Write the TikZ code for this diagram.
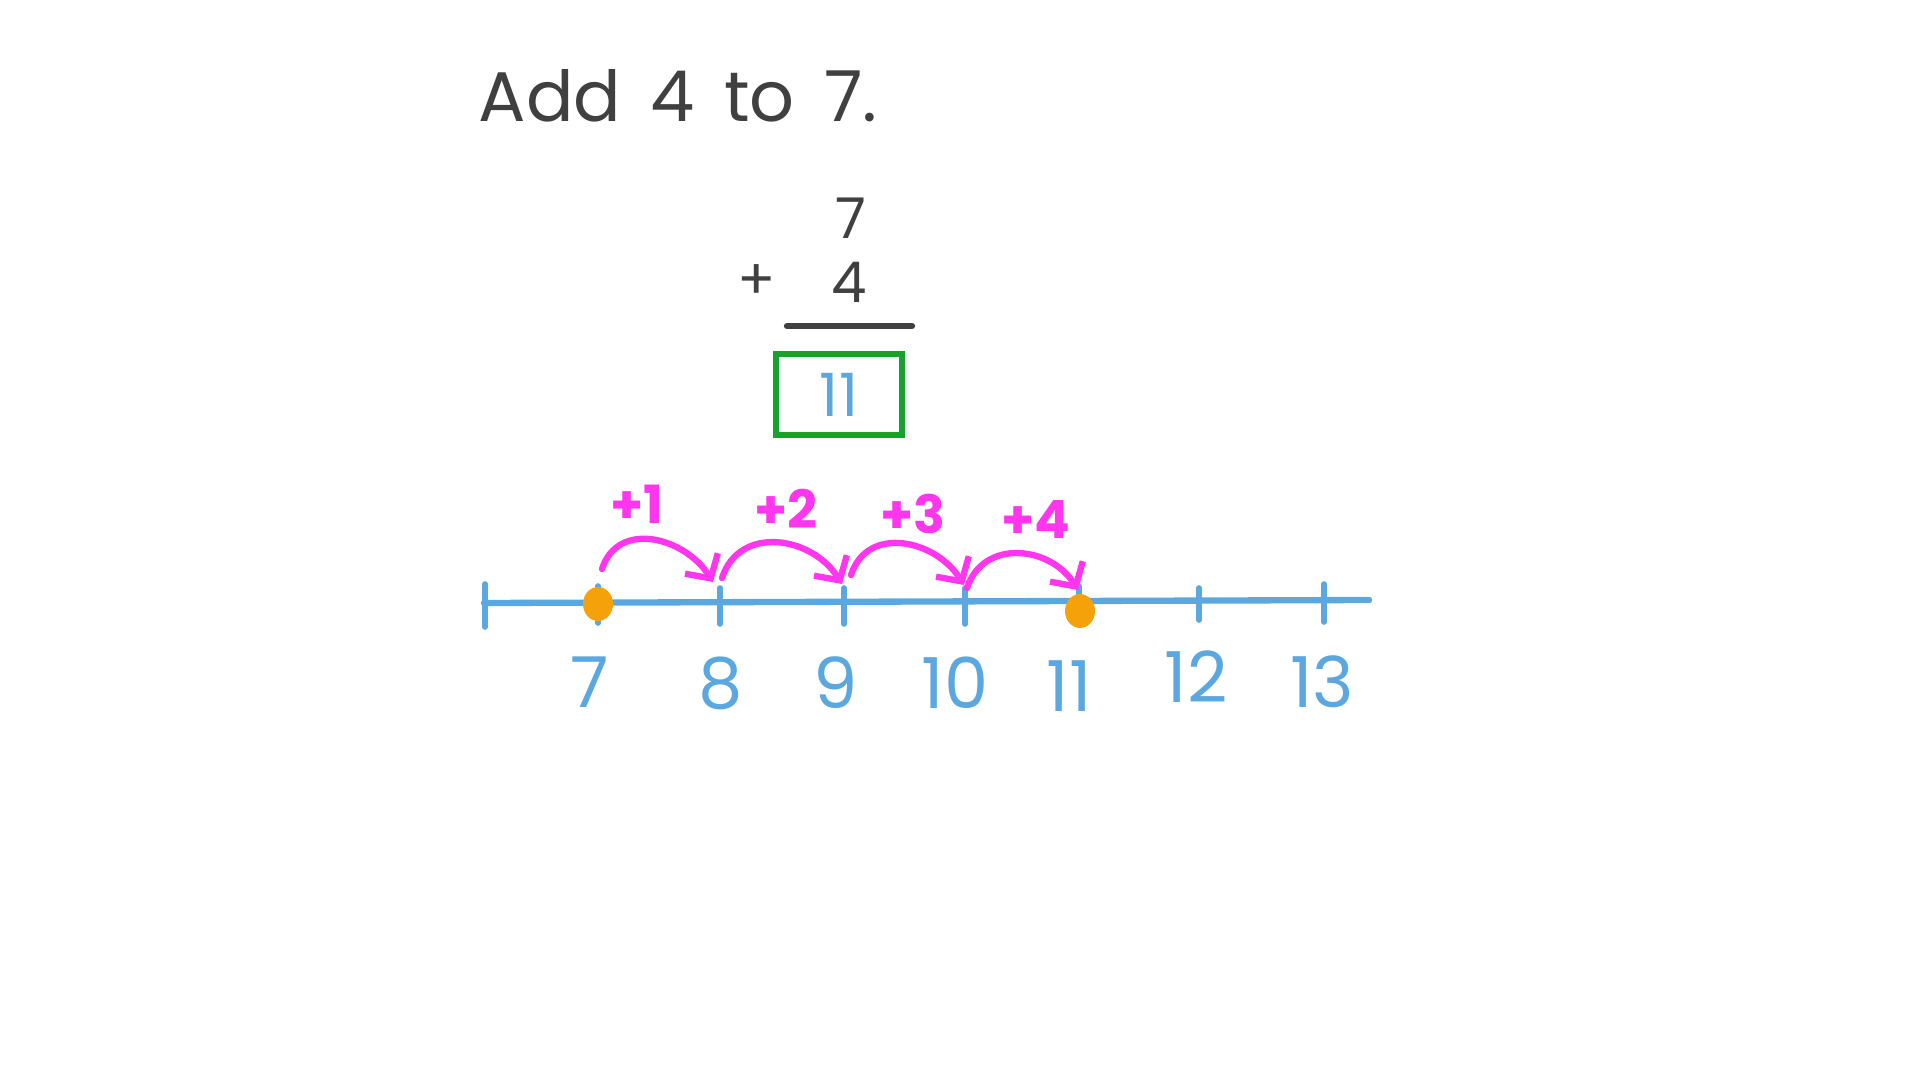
\documentclass[tikz,border=0pt]{standalone}
\usepackage{fontspec}
\setmainfont{Poppins}
\usetikzlibrary{arrows.meta}
\definecolor{inkgray}{HTML}{404040}
\definecolor{numblue}{HTML}{5BA8E0}
\definecolor{jumppink}{HTML}{FF36EE}
\definecolor{dotorange}{HTML}{F5A20A}
\definecolor{boxgreen}{HTML}{17A22D}

\begin{document}
\begin{tikzpicture}[> = Straight Barb, line cap=round,
	axisline/.style={draw=numblue, line width=1.8pt},
	tickmark/.style={draw=numblue, line width=1.6pt},
	jump/.style={draw=jumppink, line width=1.8pt, -{Straight Barb[length=5pt, width=11pt, line width=1.8pt]}, out=72, in=122, looseness=1.2},
	numlabel/.style={text=numblue, font=\fontsize{20}{24}\selectfont},
	jumplabel/.style={text=jumppink, font=\fontsize{15}{18}\selectfont\bfseries},
	sumtext/.style={text=inkgray, font=\fontsize{16}{20}\selectfont}]
	\useasboundingbox (0,0) rectangle (19.2,-10.8);
	
	\node[anchor=base west, inner sep=0pt, text=inkgray, font=\fontsize{20}{24}\selectfont] (title) at (4.78,-1.22) {Add\hspace{0.42em}4\hspace{0.42em}to\hspace{0.42em}7.}; % question
	
	\node[sumtext] (top) at (8.51,-2.18) {7};
	\node[sumtext] (plus) at (7.57,-2.82) {+};
	\node[sumtext] (four) at (8.49,-2.82) {4};
	\draw[inkgray, line width=1.8pt] (7.87,-3.26) -- (9.12,-3.26); % sum line
	\node[draw=boxgreen, line width=1.5pt, minimum width=1.26cm, minimum height=0.81cm, text=numblue, font=\fontsize{17}{20}\selectfont] (answer) at (8.39,-3.945) {11};
	
	\draw[axisline] (4.84,-6.03) -- (13.69,-6.00); % number line
	\draw[tickmark] (4.85,-5.84) -- (4.85,-6.27);
	\draw[tickmark] (5.98,-5.86) -- (5.98,-6.23);
	\draw[tickmark] (7.20,-5.88) -- (7.20,-6.24);
	\draw[tickmark] (8.44,-5.88) -- (8.44,-6.24);
	\draw[tickmark] (9.65,-5.88) -- (9.65,-6.24);
	\draw[tickmark] (10.79,-5.86) -- (10.79,-6.22);
	\draw[tickmark] (11.99,-5.88) -- (11.99,-6.20);
	\draw[tickmark] (13.24,-5.84) -- (13.24,-6.22);
	
	\node[numlabel] (n7) at (5.90,-6.82) {7};
	\node[numlabel] (n8) at (7.21,-6.83) {8};
	\node[numlabel] (n9) at (8.36,-6.83) {9};
	\node[numlabel] (n10) at (9.55,-6.83) {10};
	\node[numlabel] (n11) at (10.69,-6.86) {11};
	\node[numlabel] (n12) at (11.96,-6.77) {12};
	\node[numlabel] (n13) at (13.22,-6.82) {13};
	
	\fill[dotorange] (5.98,-6.04) ellipse (0.15 and 0.17); % start
	\fill[dotorange] (10.80,-6.11) ellipse (0.15 and 0.17); % end
	
	\coordinate (s1) at (6.02,-5.69);
	\coordinate (e1) at (7.13,-5.82);
	\coordinate (s2) at (7.22,-5.78);
	\coordinate (e2) at (8.42,-5.84);
	\coordinate (s3) at (8.51,-5.75);
	\coordinate (e3) at (9.64,-5.85);
	\coordinate (s4) at (9.67,-5.88);
	\coordinate (e4) at (10.78,-5.90);
	
	\draw[jump] (s1) to (e1);
	\draw[jump] (s2) to (e2);
	\draw[jump] (s3) to (e3);
	\draw[jump] (s4) to (e4);
	
	\node[jumplabel] (p1) at (6.37,-5.04) {+1};
	\node[jumplabel] (p2) at (7.86,-5.09) {+2};
	\node[jumplabel] (p3) at (9.13,-5.14) {+3};
	\node[jumplabel] (p4) at (10.36,-5.20) {+4};
\end{tikzpicture}
\end{document}
